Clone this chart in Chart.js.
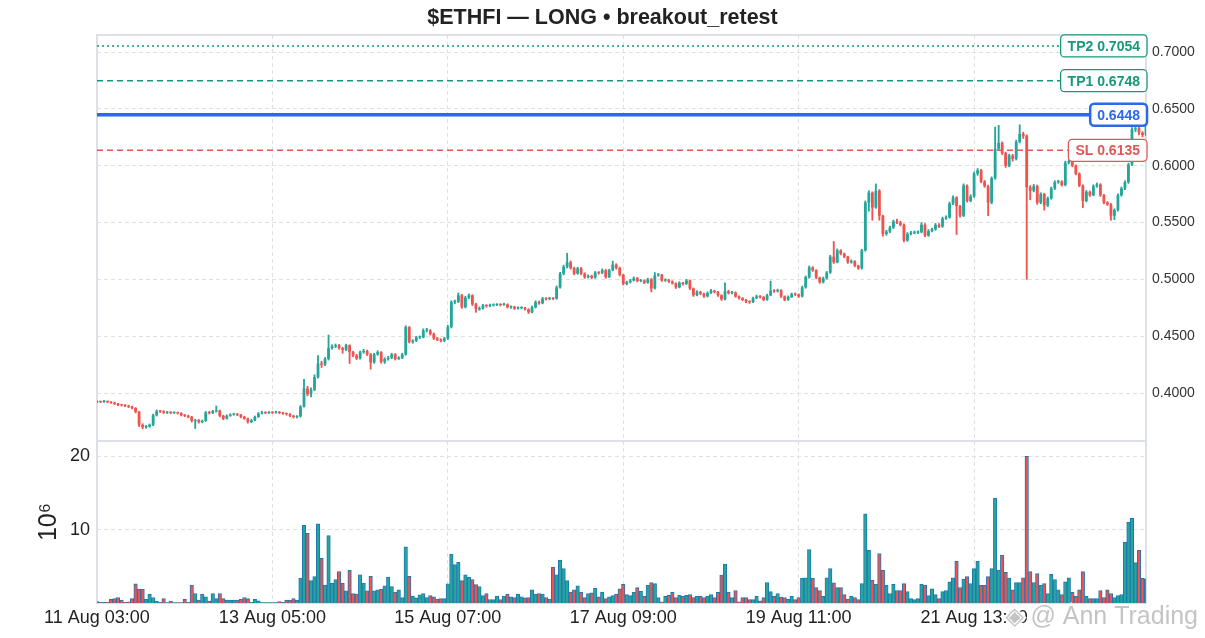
<!DOCTYPE html>
<html>
<head>
<meta charset="utf-8">
<title>$ETHFI — LONG • breakout_retest</title>
<script src="https://cdn.jsdelivr.net/npm/chart.js@4.4.1/dist/chart.umd.min.js"></script>
<style>
  html, body { margin: 0; padding: 0; background: #fff; }
  #wrap { position: relative; width: 1205px; height: 638px; overflow: hidden; }
  #top { position: absolute; left: 0; top: 0; width: 1205px; height: 441px; }
  #bot { position: absolute; left: 0; top: 441px; width: 1205px; height: 197px; }
</style>
</head>
<body>
<div id="wrap">
  <div id="top"><canvas id="priceChart"></canvas></div>
  <div id="bot"><canvas id="volChart"></canvas></div>
</div>
<script>
// ---- data (hourly candles, 11 Aug 03:00 -> ) ----
const firstOpen = 0.3920;
const closes = [
  0.3925,0.3922,0.3928,0.3920,0.3915,0.3905,0.3895,0.3892,0.3888,0.3880,
  0.3868,0.3835,0.3720,0.3700,0.3705,0.3720,0.3805,0.3840,0.3838,0.3828,
  0.3830,0.3826,0.3828,0.3822,0.3805,0.3800,0.3790,0.3755,0.3760,0.3745,
  0.3755,0.3830,0.3825,0.3840,0.3845,0.3800,0.3775,0.3800,0.3810,0.3815,
  0.3808,0.3790,0.3775,0.3745,0.3760,0.3790,0.3820,0.3828,0.3825,0.3830,
  0.3828,0.3832,0.3825,0.3820,0.3815,0.3800,0.3790,0.3795,0.3880,0.4040,
  0.3990,0.4030,0.4140,0.4260,0.4250,0.4300,0.4395,0.4410,0.4420,0.4395,
  0.4380,0.4420,0.4360,0.4330,0.4305,0.4360,0.4370,0.4340,0.4270,0.4340,
  0.4360,0.4275,0.4300,0.4310,0.4340,0.4300,0.4310,0.4340,0.4580,0.4450,
  0.4460,0.4490,0.4490,0.4550,0.4550,0.4520,0.4480,0.4470,0.4460,0.4480,
  0.4580,0.4800,0.4805,0.4860,0.4755,0.4840,0.4860,0.4780,0.4737,0.4745,
  0.4770,0.4765,0.4772,0.4775,0.4778,0.4776,0.4780,0.4755,0.4758,0.4745,
  0.4748,0.4750,0.4737,0.4710,0.4755,0.4800,0.4790,0.4830,0.4828,0.4832,
  0.4830,0.4930,0.5050,0.5110,0.5150,0.5100,0.5050,0.5097,0.5050,0.5020,
  0.5030,0.5015,0.5060,0.5058,0.5080,0.5020,0.5080,0.5130,0.5100,0.5040,
  0.4960,0.4975,0.4990,0.5010,0.4985,0.4990,0.4970,0.5000,0.4920,0.5035,
  0.5040,0.4990,0.4995,0.4980,0.4965,0.4930,0.4970,0.4960,0.4990,0.4920,
  0.4860,0.4890,0.4875,0.4850,0.4880,0.4900,0.4890,0.4860,0.4825,0.4895,
  0.4880,0.4885,0.4850,0.4835,0.4820,0.4805,0.4800,0.4835,0.4850,0.4845,
  0.4820,0.4860,0.4900,0.4895,0.4905,0.4850,0.4820,0.4845,0.4870,0.4868,
  0.4850,0.4930,0.5020,0.5105,0.5080,0.5015,0.4975,0.5010,0.5060,0.5200,
  0.5150,0.5255,0.5225,0.5200,0.5150,0.5160,0.5120,0.5097,0.5255,0.5675,
  0.5763,0.5632,0.5780,0.5560,0.5400,0.5420,0.5456,0.5510,0.5500,0.5480,
  0.5342,0.5400,0.5410,0.5412,0.5415,0.5480,0.5385,0.5425,0.5440,0.5480,
  0.5465,0.5535,0.5545,0.5667,0.5720,0.5645,0.5560,0.5825,0.5690,0.5730,
  0.5930,0.5960,0.5860,0.5820,0.5675,0.5890,0.6150,0.6200,0.6110,0.6000,
  0.6090,0.6060,0.6210,0.6280,0.6260,0.5810,0.5780,0.5820,0.5675,0.5750,
  0.5650,0.5713,0.5800,0.5855,0.5860,0.5830,0.6026,0.6040,0.6000,0.5930,
  0.5825,0.5690,0.5770,0.5740,0.5820,0.5835,0.5740,0.5675,0.5660,0.5560,
  0.5610,0.5740,0.5800,0.5855,0.6010,0.6320,0.6330,0.6290,0.6270,0.6440
];
const highs = [
  0.3932,0.3930,0.3935,0.3932,0.3925,0.3920,0.3910,0.3900,0.3898,0.3893,
  0.3885,0.3872,0.3840,0.3730,0.3715,0.3728,0.3815,0.3852,0.3848,0.3845,
  0.3838,0.3836,0.3835,0.3833,0.3828,0.3812,0.3806,0.3795,0.3770,0.3768,
  0.3762,0.3838,0.3838,0.3848,0.3886,0.3850,0.3805,0.3808,0.3818,0.3822,
  0.3820,0.3812,0.3795,0.3780,0.3768,0.3798,0.3828,0.3840,0.3835,0.3838,
  0.3836,0.3840,0.3838,0.3830,0.3825,0.3820,0.3805,0.3802,0.3890,0.4120,
  0.4060,0.4045,0.4160,0.4330,0.4280,0.4312,0.4510,0.4425,0.4432,0.4428,
  0.4402,0.4430,0.4425,0.4368,0.4340,0.4370,0.4385,0.4378,0.4348,0.4350,
  0.4372,0.4365,0.4310,0.4322,0.4350,0.4348,0.4320,0.4350,0.4592,0.4585,
  0.4470,0.4500,0.4502,0.4565,0.4570,0.4558,0.4528,0.4490,0.4478,0.4490,
  0.4595,0.4812,0.4818,0.4880,0.4868,0.4852,0.4872,0.4865,0.4790,0.4758,
  0.4780,0.4778,0.4782,0.4785,0.4788,0.4786,0.4792,0.4785,0.4768,0.4765,
  0.4758,0.4760,0.4755,0.4742,0.4765,0.4812,0.4808,0.4842,0.4840,0.4842,
  0.4840,0.4942,0.5062,0.5125,0.5230,0.5162,0.5108,0.5108,0.5105,0.5058,
  0.5040,0.5038,0.5070,0.5068,0.5092,0.5088,0.5090,0.5160,0.5138,0.5108,
  0.5045,0.4985,0.5000,0.5022,0.5018,0.5000,0.4995,0.5010,0.5008,0.5060,
  0.5052,0.5045,0.5005,0.5000,0.4988,0.4970,0.4980,0.4975,0.5000,0.4995,
  0.4925,0.4900,0.4895,0.4880,0.4890,0.4912,0.4905,0.4895,0.4865,0.4970,
  0.4905,0.4895,0.4890,0.4855,0.4840,0.4825,0.4812,0.4845,0.4862,0.4858,
  0.4850,0.4870,0.4985,0.4910,0.4915,0.4910,0.4855,0.4855,0.4880,0.4880,
  0.4872,0.4940,0.5030,0.5118,0.5112,0.5085,0.5020,0.5020,0.5070,0.5212,
  0.5333,0.5268,0.5262,0.5232,0.5205,0.5172,0.5165,0.5125,0.5265,0.5690,
  0.5780,0.5770,0.5840,0.5790,0.5565,0.5432,0.5468,0.5522,0.5530,0.5512,
  0.5488,0.5412,0.5422,0.5425,0.5428,0.5500,0.5490,0.5438,0.5452,0.5492,
  0.5490,0.5548,0.5560,0.5680,0.5735,0.5728,0.5652,0.5840,0.5832,0.5745,
  0.5945,0.5975,0.5968,0.5870,0.5830,0.5902,0.6340,0.6355,0.6210,0.6120,
  0.6102,0.6100,0.6225,0.6360,0.6295,0.6272,0.5825,0.5835,0.5830,0.5762,
  0.5758,0.5725,0.5812,0.5868,0.5872,0.5868,0.6040,0.6055,0.6048,0.6008,
  0.5938,0.5832,0.5782,0.5778,0.5832,0.5848,0.5842,0.5748,0.5685,0.5668,
  0.5622,0.5752,0.5812,0.5868,0.6022,0.6335,0.6360,0.6340,0.6300,0.6455
];
const lows = [
  0.3915,0.3915,0.3918,0.3914,0.3908,0.3898,0.3888,0.3885,0.3880,0.3872,
  0.3860,0.3825,0.3705,0.3685,0.3690,0.3698,0.3712,0.3798,0.3828,0.3820,
  0.3820,0.3818,0.3820,0.3815,0.3798,0.3792,0.3782,0.3745,0.3688,0.3735,
  0.3738,0.3750,0.3815,0.3818,0.3832,0.3790,0.3765,0.3770,0.3795,0.3805,
  0.3800,0.3782,0.3768,0.3735,0.3738,0.3755,0.3785,0.3815,0.3818,0.3820,
  0.3820,0.3822,0.3818,0.3812,0.3805,0.3792,0.3780,0.3782,0.3788,0.3875,
  0.3975,0.3965,0.4020,0.4130,0.4225,0.4240,0.4290,0.4385,0.4400,0.4385,
  0.4350,0.4372,0.4260,0.4320,0.4295,0.4298,0.4350,0.4330,0.4210,0.4262,
  0.4332,0.4262,0.4260,0.4288,0.4302,0.4290,0.4295,0.4302,0.4332,0.4440,
  0.4438,0.4452,0.4478,0.4485,0.4538,0.4510,0.4470,0.4460,0.4450,0.4452,
  0.4470,0.4572,0.4785,0.4795,0.4745,0.4748,0.4830,0.4770,0.4710,0.4728,
  0.4738,0.4755,0.4760,0.4765,0.4768,0.4766,0.4770,0.4748,0.4745,0.4735,
  0.4738,0.4740,0.4728,0.4700,0.4705,0.4748,0.4780,0.4785,0.4818,0.4820,
  0.4822,0.4825,0.4922,0.5040,0.5100,0.5090,0.5040,0.5045,0.5040,0.5008,
  0.5012,0.5005,0.5010,0.5045,0.5050,0.5010,0.5015,0.5075,0.5090,0.5030,
  0.4950,0.4952,0.4968,0.4985,0.4978,0.4978,0.4962,0.4965,0.4890,0.4915,
  0.5028,0.4982,0.4982,0.4972,0.4958,0.4920,0.4925,0.4950,0.4955,0.4910,
  0.4850,0.4855,0.4865,0.4842,0.4845,0.4875,0.4880,0.4850,0.4815,0.4820,
  0.4870,0.4872,0.4842,0.4825,0.4812,0.4795,0.4788,0.4795,0.4830,0.4835,
  0.4812,0.4815,0.4855,0.4885,0.4888,0.4840,0.4812,0.4815,0.4840,0.4858,
  0.4840,0.4845,0.4922,0.5010,0.5070,0.5005,0.4965,0.4968,0.5002,0.5052,
  0.5140,0.5145,0.5215,0.5190,0.5140,0.5142,0.5110,0.5088,0.5090,0.5248,
  0.5600,0.5520,0.5625,0.5520,0.5380,0.5388,0.5410,0.5448,0.5490,0.5470,
  0.5330,0.5335,0.5392,0.5400,0.5402,0.5408,0.5375,0.5378,0.5418,0.5432,
  0.5455,0.5458,0.5528,0.5538,0.5658,0.5395,0.5548,0.5552,0.5680,0.5682,
  0.5722,0.5915,0.5850,0.5810,0.5560,0.5665,0.5880,0.6140,0.6098,0.5985,
  0.5990,0.6040,0.6050,0.6200,0.6240,0.5000,0.5700,0.5770,0.5660,0.5665,
  0.5610,0.5640,0.5705,0.5790,0.5845,0.5820,0.5822,0.6015,0.5990,0.5920,
  0.5815,0.5630,0.5682,0.5730,0.5735,0.5810,0.5730,0.5665,0.5650,0.5520,
  0.5525,0.5600,0.5732,0.5790,0.5845,0.6000,0.6300,0.6270,0.6255,0.6262
];
// volume in millions
const volumes = [
  0.2,0.1,0.1,0.1,0.5,0.6,0.75,0.4,0.1,0.15,
  0.6,2.6,1.9,1.9,0.5,1.2,0.75,0.25,0.1,0.6,
  0.05,0.25,0.05,0.05,0.05,0.5,0.1,2.45,1.3,0.4,
  1.2,0.85,0.25,1.3,0.6,1.3,0.6,0.4,0.4,0.4,
  0.4,0.5,0.75,0.6,0.1,0.5,0.3,0.05,0.05,0.05,
  0.05,0.05,0.2,0.1,0.4,0.4,0.6,0.4,3.4,10.6,
  9.5,3.05,3.6,10.8,6.1,2.45,9.2,2.7,3.2,4.3,
  2.7,1.65,4.45,1.3,1.2,3.85,2.7,1.65,3.65,1.65,
  1.8,1.9,2.35,3.55,2.25,1.5,1.8,0.75,7.65,3.65,
  0.95,0.7,1.1,1.3,0.75,1.0,0.85,0.55,0.6,0.6,
  2.6,6.65,5.25,5.55,3.05,3.85,3.55,3.2,2.5,2.25,
  1.0,1.3,0.45,0.45,0.95,0.45,0.95,1.2,0.85,0.75,
  1.2,0.85,0.7,0.75,1.8,1.2,1.3,1.2,0.75,0.55,
  4.85,3.85,5.85,4.7,3.05,1.5,1.8,2.35,1.5,0.75,
  1.3,1.4,2.0,0.85,1.5,0.6,0.85,1.0,1.2,1.95,
  2.55,1.15,1.0,1.45,2.1,1.6,0.9,2.4,2.8,2.65,
  0.75,0.15,0.9,1.05,1.45,0.75,1.05,0.9,1.05,1.15,
  0.75,0.9,0.9,0.75,0.9,1.15,0.75,1.45,3.8,5.3,
  1.45,0.75,1.7,0.15,0.75,0.75,0.45,0.45,0.9,0.3,
  0.75,2.8,1.55,0.9,1.3,0.8,0.75,0.55,0.9,0.45,
  0.75,3.4,3.45,7.3,3.35,2.1,1.7,0.9,3.45,4.7,
  2.75,2.1,2.1,1.15,0.55,0.9,0.75,0.45,2.65,12.15,
  7.2,3.1,2.55,6.75,4.5,2.4,1.3,2.55,1.7,1.7,
  2.65,1.55,0.6,0.45,0.6,2.55,2.4,1.0,1.95,1.15,
  0.6,1.55,1.7,2.9,3.45,5.7,2.1,3.25,3.6,2.65,
  4.7,5.7,2.4,2.4,3.6,4.7,14.3,4.5,6.5,4.2,
  3.4,1.8,2.8,2.8,3.45,20.0,4.3,2.8,4.0,2.4,
  2.65,1.3,3.9,3.2,1.8,1.15,2.9,3.45,1.45,0.9,
  1.8,4.3,0.9,0.6,0.6,0.6,1.7,0.75,1.8,1.3,
  0.75,1.0,1.15,8.3,11.05,11.55,5.5,7.2,3.35,3.3
];
const tickLabels = ['11 Aug 03:00', '13 Aug 05:00', '15 Aug 07:00', '17 Aug 09:00', '19 Aug 11:00', '21 Aug 13:00'];
const tickEvery = 50;
const priceTicks = [0.40, 0.45, 0.50, 0.55, 0.60, 0.65, 0.70];
const volTicks = [10, 20];
const levelNames = ['TP2', 'TP1', '', 'SL'];
const levelValues = [0.7054, 0.6748, 0.6448, 0.6135];

// ---- styles ----
const UP = '#26a69a', DOWN = '#ef5350', GRID = '#e0e0e0';
const levelStyles = [
  { color: '#16987a', dash: [2, 3], width: 1.5, box: 1.3 },
  { color: '#16987a', dash: [6, 4], width: 1.5, box: 1.3 },
  { color: '#2b68f0', dash: [], width: 3.5, box: 2.5 },
  { color: '#e25656', dash: [6, 4], width: 1.5, box: 1.3 }
];
Chart.defaults.font.family = "'Liberation Sans', Arial, sans-serif";

const opens = [firstOpen].concat(closes.slice(0, -1));
const upFlags = closes.map((c, i) => c >= opens[i]);
const candleColors = upFlags.map(u => u ? UP : DOWN);
const labels = closes.map((_, i) => i);

function xGridColor(ctx) {
  return ctx.tick && ctx.tick.value % tickEvery === 0 ? GRID : 'rgba(0,0,0,0)';
}
function xTickLabel(value, index) {
  return index % tickEvery === 0 ? tickLabels[index / tickEvery] : null;
}

const framePlugin = {
  id: 'frame',
  beforeDatasetsDraw(chart) {
    const { ctx, chartArea: a } = chart;
    ctx.save();
    ctx.strokeStyle = '#dde1e7';
    ctx.lineWidth = 2;
    ctx.strokeRect(a.left, a.top, a.right - a.left, a.bottom - a.top);
    ctx.restore();
  }
};

const levelsPlugin = {
  id: 'levels',
  afterDatasetsDraw(chart) {
    const { ctx, chartArea: a } = chart;
    const y = chart.scales.y;
    levelValues.forEach((v, i) => {
      const st = levelStyles[i];
      const py = y.getPixelForValue(v);
      ctx.save();
      ctx.strokeStyle = st.color;
      ctx.lineWidth = st.width;
      ctx.setLineDash(st.dash);
      ctx.beginPath();
      ctx.moveTo(a.left, py);
      ctx.lineTo(a.right, py);
      ctx.stroke();
      ctx.setLineDash([]);
      const txt = (levelNames[i] ? levelNames[i] + ' ' : '') + v.toFixed(4);
      ctx.font = "bold 14px 'Liberation Sans', Arial, sans-serif";
      const bw = ctx.measureText(txt).width + 14;
      const bh = 22;
      const bx = a.right + 1 - bw;
      ctx.beginPath();
      ctx.roundRect(bx, py - bh / 2, bw, bh, 4);
      ctx.fillStyle = '#fff';
      ctx.fill();
      ctx.lineWidth = st.box;
      ctx.stroke();
      ctx.fillStyle = st.color;
      ctx.textAlign = 'center';
      ctx.textBaseline = 'middle';
      ctx.fillText(txt, bx + bw / 2, py + 1);
      ctx.restore();
    });
  }
};

const watermarkPlugin = {
  id: 'watermark',
  afterDraw(chart) {
    const ctx = chart.ctx;
    ctx.save();
    ctx.textBaseline = 'alphabetic';
    ctx.textAlign = 'right';
    ctx.font = "25px 'Liberation Sans', Arial, sans-serif";
    ctx.lineWidth = 4;
    ctx.strokeStyle = 'rgba(255,255,255,0.9)';
    ctx.strokeText('@ Ann Trading', 1198, 183);
    ctx.fillStyle = '#c4c4c4';
    ctx.fillText('@ Ann Trading', 1198, 183);
    ctx.font = "24px 'DejaVu Sans', sans-serif";
    ctx.strokeText('◈', 1024, 183);
    ctx.fillText('◈', 1024, 183);
    ctx.restore();
  }
};

new Chart(document.getElementById('priceChart'), {
  type: 'bar',
  data: {
    labels: labels,
    datasets: [
      {
        label: 'body',
        data: closes.map((c, i) => [opens[i], c]),
        backgroundColor: candleColors,
        barPercentage: 0.8,
        categoryPercentage: 1,
        minBarLength: 1,
        grouped: false,
        yAxisID: 'y'
      },
      {
        label: 'wick',
        data: lows.map((l, i) => [l, highs[i]]),
        backgroundColor: candleColors,
        barThickness: 1.2,
        grouped: false,
        yAxisID: 'y'
      }
    ]
  },
  options: {
    responsive: true,
    maintainAspectRatio: false,
    animation: false,
    layout: { padding: 0 },
    plugins: {
      legend: { display: false },
      tooltip: { enabled: false },
      title: {
        display: true,
        text: '$ETHFI — LONG • breakout_retest',
        color: '#222',
        font: { size: 21.5, weight: 'bold' },
        padding: { top: 5, bottom: 4.2 }
      }
    },
    scales: {
      x: {
        offset: false,
        grid: { offset: false, color: xGridColor, drawTicks: false },
        border: { display: false, dash: [4, 3] },
        ticks: { display: false, autoSkip: false, callback: xTickLabel },
        afterFit: s => { s.paddingLeft = 0; s.paddingRight = 0; }
      },
      y: {
        position: 'right',
        min: 0.3578,
        max: 0.7150,
        afterBuildTicks: s => { s.ticks = priceTicks.map(v => ({ value: v })); },
        afterFit: s => { s.width = 59; s.paddingTop = 0; s.paddingBottom = 0; },
        grid: { color: GRID, drawTicks: false },
        border: { display: false, dash: [4, 3] },
        ticks: { padding: 6, color: '#333', font: { size: 14 }, callback: v => v.toFixed(4) }
      },
      yLeft: {
        type: 'linear',
        position: 'left',
        grid: { display: false },
        border: { display: false },
        ticks: { display: false },
        afterFit: s => { s.width = 97; s.paddingTop = 0; s.paddingBottom = 0; }
      }
    }
  },
  plugins: [framePlugin, levelsPlugin]
});

new Chart(document.getElementById('volChart'), {
  type: 'bar',
  data: {
    labels: labels,
    datasets: [{
      label: 'volume',
      data: volumes,
      backgroundColor: candleColors,
      borderColor: '#1f77b4',
      borderWidth: 1,
      barPercentage: 1,
      categoryPercentage: 1
    }]
  },
  options: {
    responsive: true,
    maintainAspectRatio: false,
    animation: false,
    layout: { padding: { left: 0, right: 59, top: 0, bottom: 0 } },
    plugins: { legend: { display: false }, tooltip: { enabled: false } },
    scales: {
      x: {
        offset: false,
        grid: { offset: false, color: xGridColor, drawTicks: false },
        border: { display: false, dash: [4, 3] },
        ticks: { autoSkip: false, maxRotation: 0, padding: 4, color: '#222', font: { size: 18 }, callback: xTickLabel },
        afterFit: s => { s.height = 35; s.paddingLeft = 0; s.paddingRight = 0; }
      },
      y: {
        position: 'left',
        min: 0,
        max: 22.1,
        afterBuildTicks: s => { s.ticks = volTicks.map(v => ({ value: v })); },
        afterFit: s => { s.width = 97; s.paddingTop = 0; s.paddingBottom = 0; },
        grid: { color: GRID, drawTicks: false },
        border: { display: false, dash: [4, 3] },
        ticks: { padding: 7, color: '#222', font: { size: 18 } },
        title: { display: true, text: '10⁶', color: '#222', font: { size: 25 }, padding: { top: 34, bottom: 0 } }
      }
    }
  },
  plugins: [framePlugin, watermarkPlugin]
});
</script>
</body>
</html>
